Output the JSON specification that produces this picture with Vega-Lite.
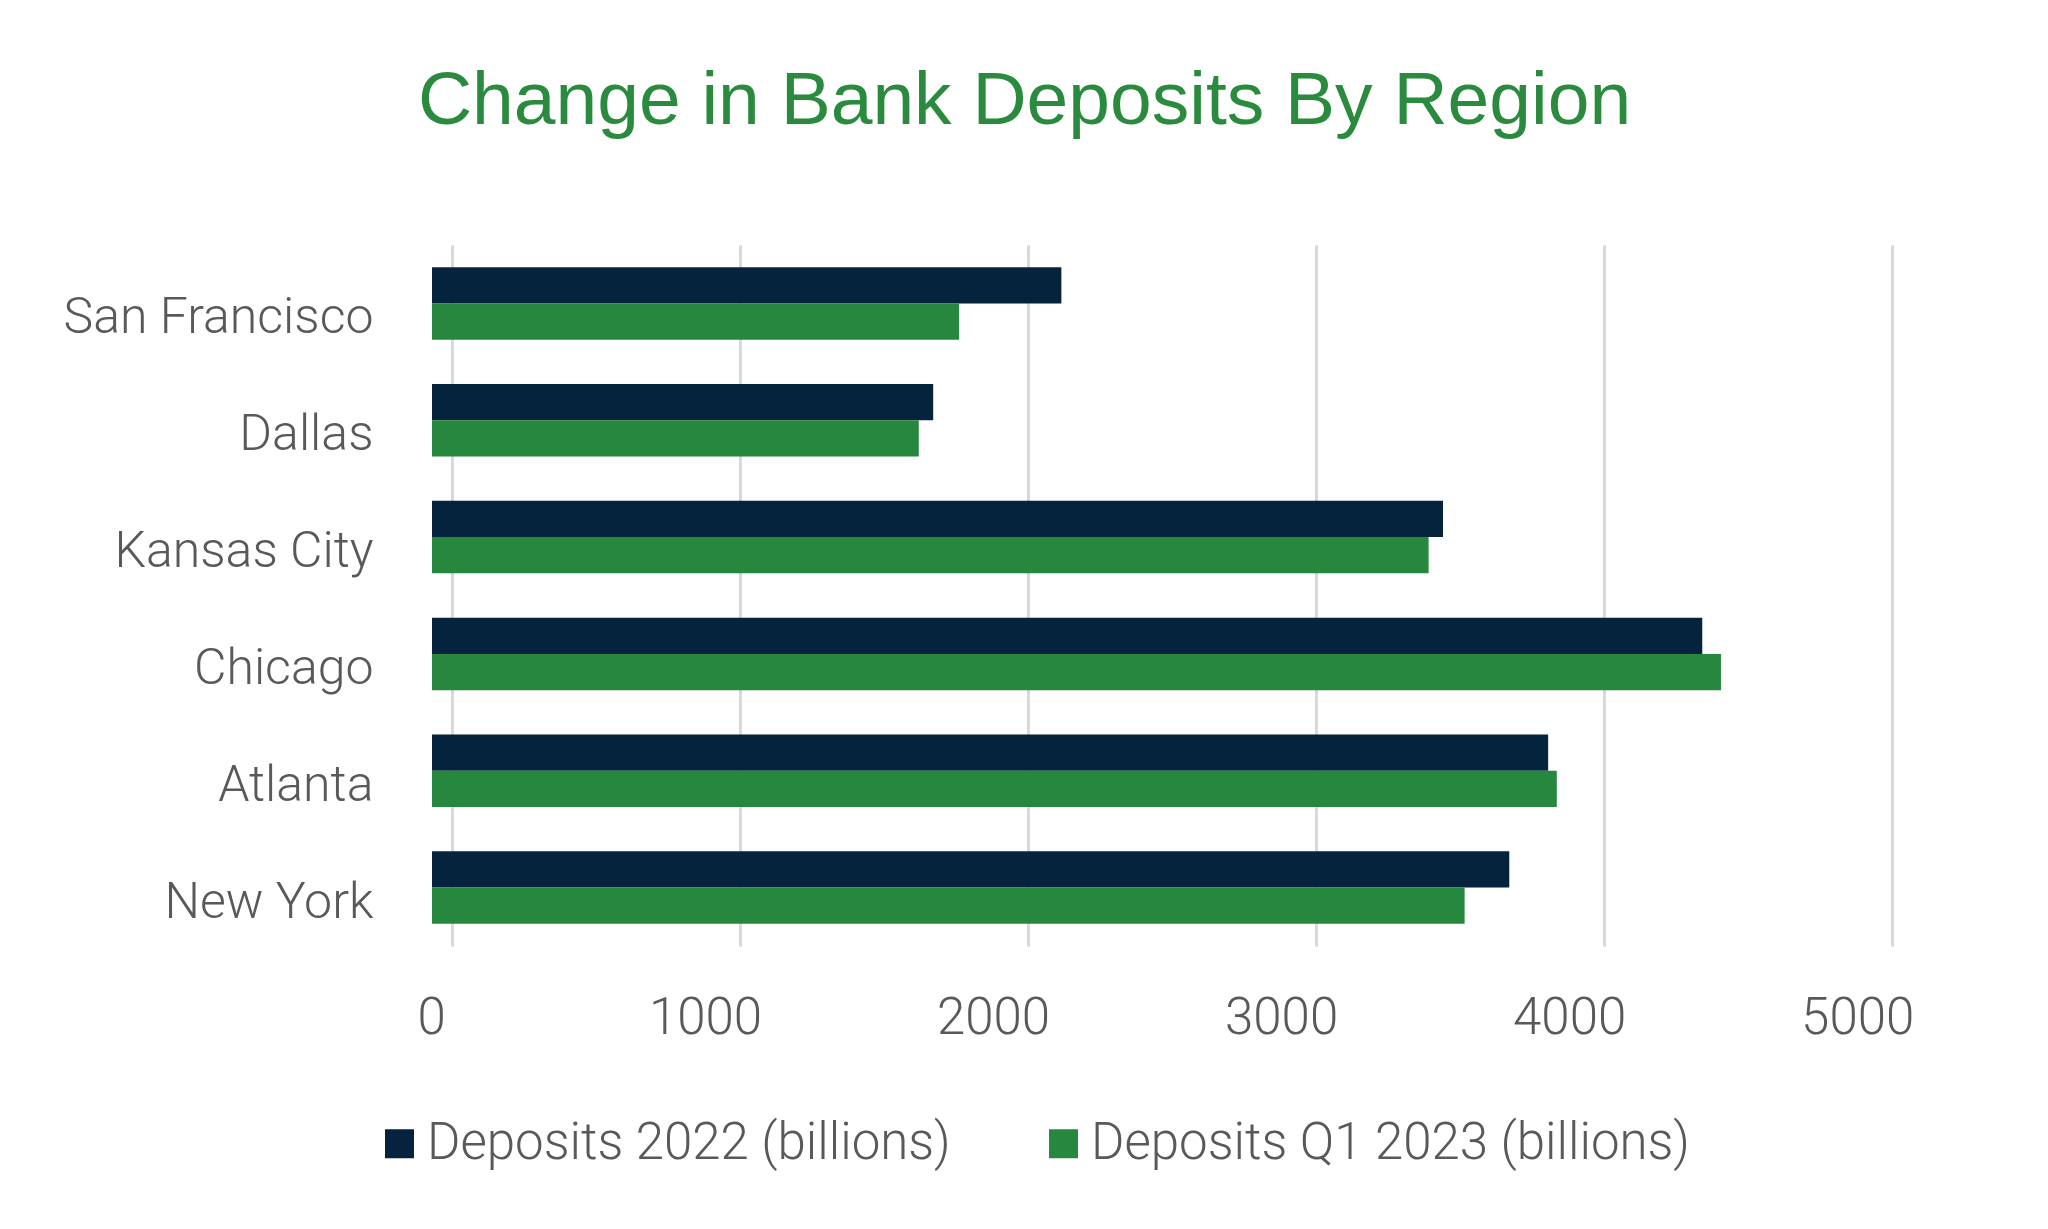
{
  "$schema": "https://vega.github.io/schema/vega-lite/v6.json",
  "autosize": {"type": "none"},
  "padding": {"left": 432, "top": 245, "right": 147, "bottom": 283},
  "width": 1469,
  "height": 701,
  "background": "white",
  "title": {
    "text": "Change in Bank Deposits By Region",
    "font": "Liberation Sans",
    "fontSize": 75,
    "fontWeight": "normal",
    "color": "#2A8A3E",
    "anchor": "middle",
    "dx": -142,
    "offset": 105
  },
  "data": {
    "values": [
      {"region": "San Francisco", "series": "Deposits 2022 (billions)", "deposits": 2185},
      {"region": "San Francisco", "series": "Deposits Q1 2023 (billions)", "deposits": 1830},
      {"region": "Dallas", "series": "Deposits 2022 (billions)", "deposits": 1740},
      {"region": "Dallas", "series": "Deposits Q1 2023 (billions)", "deposits": 1690},
      {"region": "Kansas City", "series": "Deposits 2022 (billions)", "deposits": 3510},
      {"region": "Kansas City", "series": "Deposits Q1 2023 (billions)", "deposits": 3460},
      {"region": "Chicago", "series": "Deposits 2022 (billions)", "deposits": 4410},
      {"region": "Chicago", "series": "Deposits Q1 2023 (billions)", "deposits": 4475},
      {"region": "Atlanta", "series": "Deposits 2022 (billions)", "deposits": 3875},
      {"region": "Atlanta", "series": "Deposits Q1 2023 (billions)", "deposits": 3905},
      {"region": "New York", "series": "Deposits 2022 (billions)", "deposits": 3740},
      {"region": "New York", "series": "Deposits Q1 2023 (billions)", "deposits": 3585}
    ]
  },
  "mark": {"type": "bar"},
  "encoding": {
    "y": {
      "field": "region",
      "type": "nominal",
      "sort": ["San Francisco", "Dallas", "Kansas City", "Chicago", "Atlanta", "New York"],
      "scale": {"paddingInner": 0.38, "paddingOuter": 0.19},
      "axis": {
        "title": null,
        "domain": false,
        "ticks": false,
        "tickSize": 0,
        "labelPadding": 59,
        "labelOffset": 15,
        "labelLimit": 1000,
        "labelFont": "Roboto",
        "labelFontWeight": 300,
        "labelFontSize": 50,
        "labelColor": "#595959"
      }
    },
    "yOffset": {
      "field": "series",
      "type": "nominal",
      "sort": ["Deposits 2022 (billions)", "Deposits Q1 2023 (billions)"]
    },
    "x": {
      "field": "deposits",
      "type": "quantitative",
      "scale": {"domain": [0, 5100], "nice": false},
      "axis": {
        "title": null,
        "values": [0, 1000, 2000, 3000, 4000, 5000],
        "format": "d",
        "domain": false,
        "ticks": false,
        "tickSize": 0,
        "tickOffset": 20,
        "labelOffset": -35,
        "labelBaseline": "alphabetic",
        "labelPadding": 87,
        "labelFont": "Roboto",
        "labelFontWeight": 300,
        "labelFontSize": 51,
        "labelColor": "#595959",
        "grid": true,
        "gridColor": "#D9D9D9",
        "gridWidth": 3
      }
    },
    "color": {
      "field": "series",
      "type": "nominal",
      "scale": {
        "domain": ["Deposits 2022 (billions)", "Deposits Q1 2023 (billions)"],
        "range": ["#05233D", "#26873F"]
      },
      "legend": {
        "title": null,
        "orient": "none",
        "direction": "horizontal",
        "legendX": -58,
        "legendY": 873,
        "symbolType": "square",
        "symbolSize": 841,
        "symbolStrokeWidth": 0,
        "symbolOpacity": 1,
        "labelFont": "Roboto",
        "labelFontWeight": 300,
        "labelFontSize": 51,
        "labelColor": "#595959",
        "labelOffset": 2,
        "columnPadding": 87,
        "labelLimit": 1000
      }
    }
  },
  "config": {"view": {"stroke": null}}
}
